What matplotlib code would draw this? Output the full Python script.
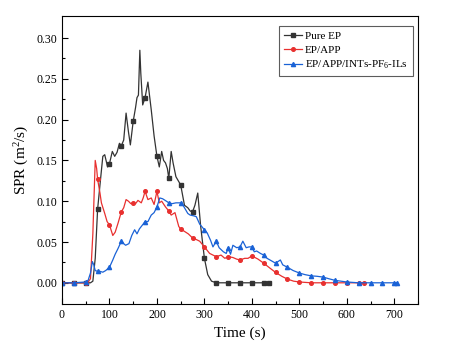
import matplotlib.pyplot as plt

plt.rcParams['font.family'] = ['Liberation Serif', 'DejaVu Serif']
plt.rcParams['mathtext.fontset'] = 'custom'
plt.rcParams['mathtext.rm'] = 'Liberation Serif'
plt.rcParams['mathtext.it'] = 'Liberation Serif:italic'

# Pure EP
t_ep = [0, 25, 50, 60, 65, 70, 75, 80, 86, 90, 96, 100, 106, 111, 116, 121, 125, 130,
        135, 140, 144, 150, 155, 158, 161, 164, 166, 170, 175, 181, 188, 194, 200, 205,
        210, 214, 218, 222, 225, 230, 234, 240, 245, 250, 258, 265, 270, 275, 280, 286,
        292, 300, 307, 315, 325, 350, 375, 400, 425, 436]
spr_ep = [0, 0, 0, 0, 0.002, 0.03, 0.09, 0.12, 0.155, 0.157, 0.142, 0.146, 0.161, 0.155,
          0.16, 0.171, 0.168, 0.175, 0.208, 0.185, 0.169, 0.198, 0.215, 0.227, 0.23, 0.285,
          0.257, 0.218, 0.227, 0.246, 0.212, 0.18, 0.155, 0.142, 0.161, 0.15, 0.147, 0.14,
          0.128, 0.161, 0.147, 0.13, 0.125, 0.12, 0.095, 0.092, 0.088, 0.087, 0.095, 0.110,
          0.07, 0.030, 0.010, 0.002, 0, 0, 0, 0, 0, 0]

# EP/APP
t_app = [0, 25, 50, 55, 60, 65, 70, 73, 75, 80, 83, 90, 95, 100, 107, 112, 118, 125, 130,
         135, 140, 145, 150, 155, 160, 167, 171, 175, 181, 188, 194, 200, 205, 210, 218,
         225, 230, 238, 246, 250, 258, 266, 275, 283, 290, 300, 311, 325, 335, 343, 350,
         360, 368, 375, 385, 392, 400, 413, 425, 438, 450, 463, 475, 488, 500, 525, 550,
         575, 600, 625, 636]
spr_app = [0, 0, 0, 0.001, 0.005, 0.06, 0.15, 0.14, 0.127, 0.11, 0.098, 0.085, 0.075,
           0.071, 0.058, 0.062, 0.073, 0.087, 0.092, 0.102, 0.1, 0.097, 0.098, 0.097, 0.101,
           0.098, 0.104, 0.112, 0.102, 0.104, 0.096, 0.112, 0.098, 0.1, 0.093, 0.088, 0.083,
           0.086, 0.069, 0.066, 0.063, 0.06, 0.055, 0.053, 0.051, 0.044, 0.036, 0.032, 0.034,
           0.03, 0.032, 0.031, 0.029, 0.028, 0.03, 0.03, 0.033, 0.029, 0.024, 0.018, 0.0127,
           0.008, 0.0045, 0.002, 0.001, 0, 0, 0, 0, 0, 0]

# EP/APP/INTs-PF6-ILs
t_ils = [0, 25, 50, 55, 60, 64, 67, 70, 75, 80, 86, 92, 100, 107, 112, 118, 125, 130, 134,
         141, 147, 153, 158, 163, 167, 175, 181, 188, 194, 200, 206, 212, 220, 225, 232,
         240, 250, 256, 265, 270, 278, 283, 290, 300, 306, 313, 318, 325, 331, 340, 346,
         350, 355, 360, 368, 375, 381, 388, 394, 400, 405, 410, 418, 425, 432, 444, 450,
         460, 465, 475, 487, 500, 512, 525, 537, 550, 562, 575, 600, 625, 650, 675, 700, 706]
spr_ils = [0, 0, 0.001, 0.003, 0.012, 0.026, 0.022, 0.015, 0.014, 0.014, 0.013, 0.015,
           0.019, 0.028, 0.035, 0.042, 0.051, 0.048, 0.046, 0.048, 0.058, 0.065, 0.06,
           0.066, 0.069, 0.075, 0.075, 0.083, 0.086, 0.093, 0.104, 0.103, 0.1, 0.098, 0.097,
           0.098, 0.098, 0.094, 0.085, 0.083, 0.082, 0.081, 0.072, 0.065, 0.061, 0.052,
           0.044, 0.051, 0.043, 0.038, 0.036, 0.043, 0.035, 0.046, 0.043, 0.044, 0.051,
           0.043, 0.044, 0.044, 0.038, 0.039, 0.036, 0.034, 0.03, 0.026, 0.024, 0.028, 0.022,
           0.019, 0.015, 0.012, 0.01, 0.0085, 0.008, 0.007, 0.005, 0.003, 0.001, 0, 0, 0,
           0, 0]


def marcas(t):
    # markers every 25 s plus the last point
    return [i for i, v in enumerate(t) if v % 25 == 0 or i == len(t) - 1]


fig = plt.figure(figsize=(4.74, 3.58), dpi=100)
ax = fig.add_axes([0.1308, 0.1508, 0.7511, 0.8045])

ax.plot(t_ep, spr_ep, color='#333333', lw=0.9, marker='s', ms=2.4,
        markevery=marcas(t_ep), label='Pure EP')
ax.plot(t_app, spr_app, color='#e8302f', lw=0.9, marker='o', ms=2.6,
        markevery=marcas(t_app), label='EP/APP')
ax.plot(t_ils, spr_ils, color='#1a62d6', lw=0.9, marker='^', ms=3,
        markevery=marcas(t_ils), label='EP/APP/INTs-PF$_6$-ILs')

ax.set_xlim(0, 750)
ax.set_ylim(-0.026, 0.327)
ax.set_xticks(range(0, 701, 100))
ax.set_xticks(range(50, 751, 100), minor=True)
ax.set_yticks([0, 0.05, 0.10, 0.15, 0.20, 0.25, 0.30])
ax.set_yticks([0.025, 0.075, 0.125, 0.175, 0.225, 0.275], minor=True)
ax.set_yticklabels(['0.00', '0.05', '0.10', '0.15', '0.20', '0.25', '0.30'])
ax.tick_params(direction='in', labelsize=8.5, length=4, width=0.8)
ax.tick_params(which='minor', direction='in', length=2, width=0.8)

ax.set_xlabel('Time (s)', fontsize=11)
ax.set_ylabel('SPR (m$^2$/s)', fontsize=11)

leg = ax.legend(loc='upper right', fontsize=8, frameon=True, fancybox=False,
                edgecolor='#333333', handlelength=1.6, handletextpad=0.3,
                borderpad=0.45, labelspacing=0.35, borderaxespad=0.2,
                bbox_to_anchor=(0.992, 0.972))
leg.get_frame().set_linewidth(0.8)

plt.savefig('out.png', dpi=100)
